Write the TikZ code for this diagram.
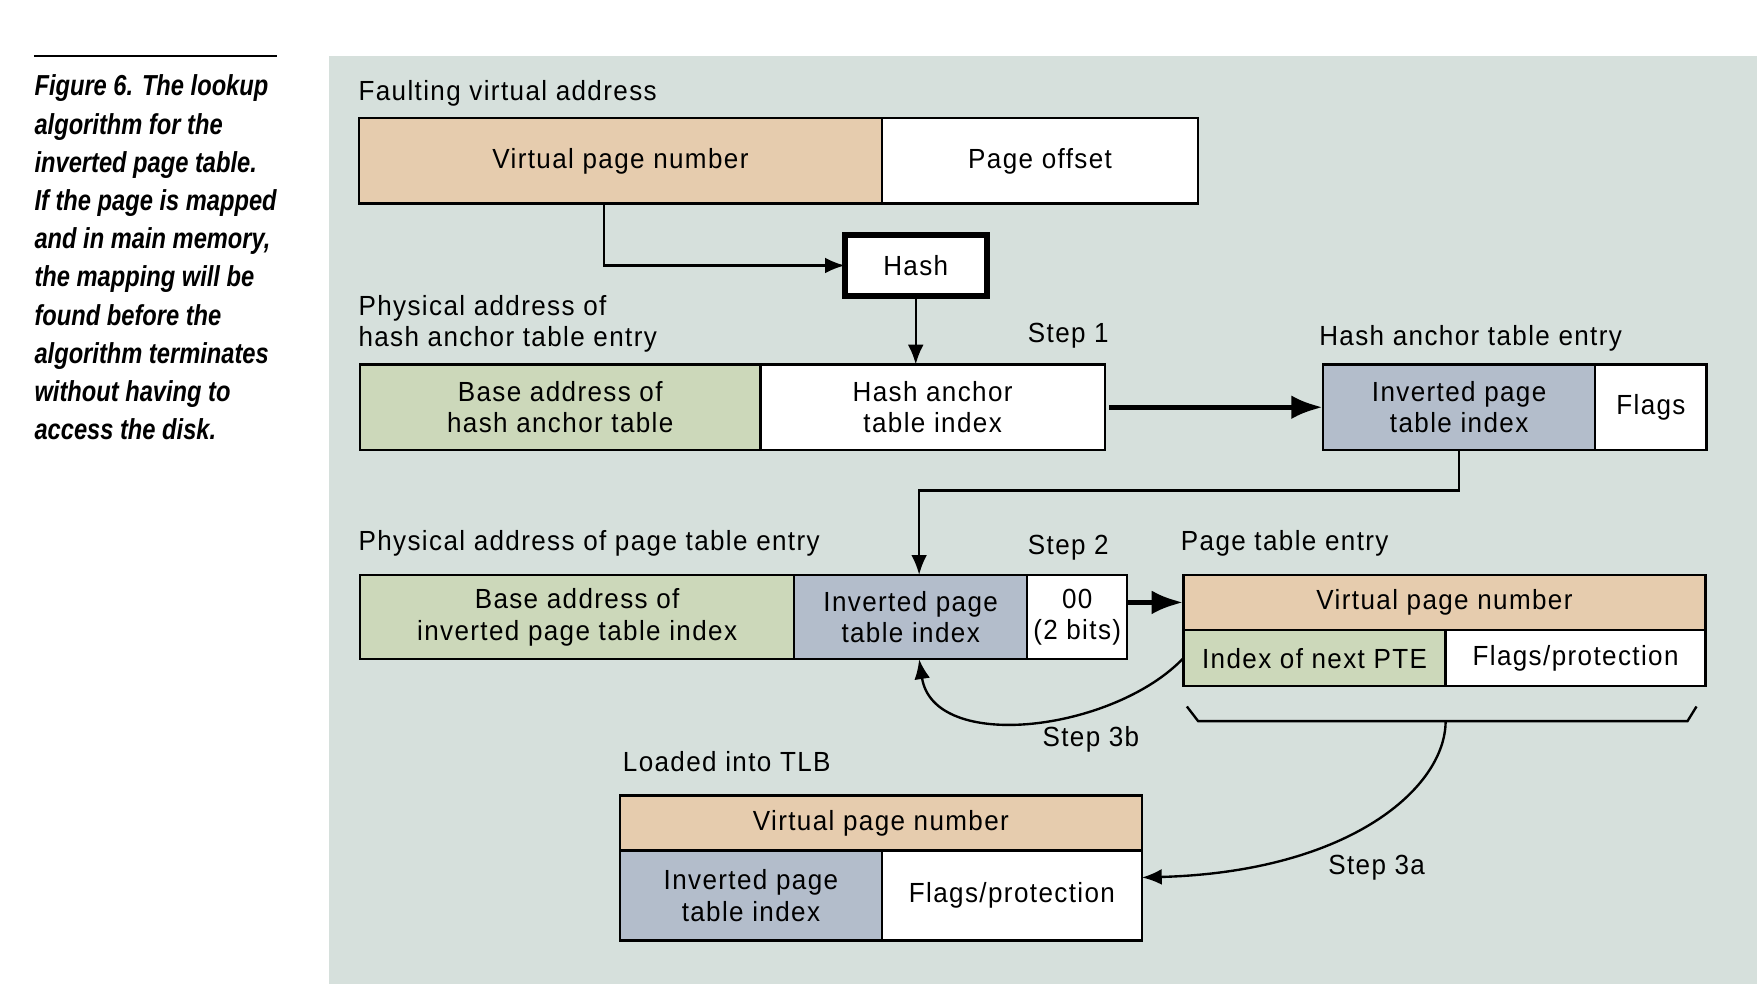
\documentclass[tikz,border=0pt]{standalone}
\usepackage{fontspec}
\setmainfont{Liberation Sans}[LetterSpace=5, FakeStretch=0.94]
\newfontfamily\capfont{Liberation Sans}[FakeStretch=0.82]
\usetikzlibrary{arrows.meta}
\definecolor{bgpaper}{HTML}{D6E0DC}
\definecolor{tanfill}{HTML}{E6CCAE}
\definecolor{greenfill}{HTML}{CCD8BA}
\definecolor{bluefill}{HTML}{B3BDCB}
\tikzset{
  cell/.style={draw=black, line width=0.6pt, inner sep=0pt, outer sep=0pt,
    align=center, font=\fontsize{7pt}{8pt}\selectfont},
  tag/.style={inner sep=0pt, anchor=west, align=left, font=\fontsize{7pt}{8pt}\selectfont},
  arr/.style={-{Latex[length=5pt,width=4pt]}, line width=0.6pt},
  fatarr/.style={-{Latex[length=8pt,width=6pt]}, line width=1.3pt},
}
\begin{document}
\begin{tikzpicture}[x=0.01cm,y=-0.01cm]
		\useasboundingbox (0,0) rectangle (1568,889);
		% backdrop and caption
		\fill [bgpaper] (292,50) rectangle (1562,875);
		\draw [line width=0.6pt] (30,50) -- (246,50);
		\node [inner sep=0pt, anchor=north west, align=left,
		  font=\capfont\bfseries\itshape\fontsize{7.3pt}{9.65pt}\selectfont] (cap) at (30,66)
		  {Figure 6. The lookup\\algorithm for the\\inverted page table.\\If the page is mapped\\and in main memory,\\the mapping will be\\found before the\\algorithm terminates\\without having to\\access the disk.};
		% faulting virtual address
		\node [tag] (lfva) at (318,83) {Faulting virtual address};
		\node [cell, fill=tanfill, minimum width=4.65cm, minimum height=0.76cm] (vpn) at (551.5,143) {Virtual page number};
		\node [cell, fill=white, minimum width=2.81cm, minimum height=0.76cm] (off) at (924.5,143) {Page offset};
		\node [cell, fill=white, line width=1.5pt, minimum width=1.26cm, minimum height=0.54cm] (hash) at (814,236) {Hash};
		\draw [arr] (vpn.south) ++(-14.5,0) |- (hash.west);
		% hash anchor table
		\node [tag] (lpah) at (318,288) {Physical address of\\hash anchor table entry};
		\node [tag] (step1) at (913,298) {Step 1};
		\node [cell, fill=greenfill, minimum width=3.56cm, minimum height=0.76cm] (hbase) at (498,362) {Base address of\\hash anchor table};
		\node [cell, fill=white, minimum width=3.06cm, minimum height=0.76cm] (hidx) at (829,362) {Hash anchor\\table index};
		\draw [arr] (hash.south) -- (hash.south |- hidx.north);
		\node [tag] (lhae) at (1172,301) {Hash anchor table entry};
		\node [cell, fill=bluefill, minimum width=2.42cm, minimum height=0.76cm] (haipt) at (1297,362) {Inverted page\\table index};
		\node [cell, fill=white, minimum width=0.99cm, minimum height=0.76cm] (haflg) at (1467.5,362) {Flags};
		\draw [fatarr] (hidx.east) ++(4,0) -- (haipt.west);
		% page table entry address
		\node [tag] (lpap) at (318,483) {Physical address of page table entry};
		\node [tag] (step2) at (913,487) {Step 2};
		\node [cell, fill=greenfill, minimum width=3.86cm, minimum height=0.75cm] (pbase) at (513,548.5) {Base address of\\inverted page table index};
		\node [cell, fill=bluefill, minimum width=2.07cm, minimum height=0.75cm] (pidx) at (809.5,548.5) {Inverted page\\table index};
		\node [cell, fill=white, minimum width=0.89cm, minimum height=0.75cm] (pbits) at (957.5,548.5) {00\\(2 bits)};
		\draw [arr] (haipt.south) -- ++(0,36) -| ([xshift=0.075cm]pidx.north);
		% page table entry
		\node [tag] (lpte) at (1049,483) {Page table entry};
		\node [cell, fill=tanfill, minimum width=4.64cm, minimum height=0.49cm] (evpn) at (1284,535.5) {Virtual page number};
		\node [cell, fill=greenfill, minimum width=2.33cm, minimum height=0.5cm] (enext) at (1168.5,585) {Index of next PTE};
		\node [cell, fill=white, minimum width=2.31cm, minimum height=0.5cm] (eflg) at (1400.5,585) {Flags/protection};
		\draw [fatarr] (evpn.west -| pbits.east) -- (evpn.west);
		\draw [arr] (enext.west) .. controls (990,650) and (830,670) .. ([xshift=0.075cm]pidx.south);
		\node [tag] (step3b) at (926,657) {Step 3b};
		\draw [line width=0.6pt] (1055,628) -- (1065,641) -- (1500,641) -- (1508,628);
		\coordinate (brace) at (1285,641);
		% TLB
		\node [tag] (ltlb) at (553,677) {Loaded into TLB};
		\node [cell, fill=tanfill, minimum width=4.64cm, minimum height=0.49cm] (tvpn) at (783,731.5) {Virtual page number};
		\node [cell, fill=bluefill, minimum width=2.33cm, minimum height=0.8cm] (tidx) at (667.5,796) {Inverted page\\table index};
		\node [cell, fill=white, minimum width=2.31cm, minimum height=0.8cm] (tflg) at (899.5,796) {Flags/protection};
		\draw [arr] (brace) .. controls (1285,700) and (1200,775) .. ([yshift=0.16cm]tflg.east);
		\node [tag] (step3a) at (1180,771) {Step 3a};
	\end{tikzpicture}
\end{document}
